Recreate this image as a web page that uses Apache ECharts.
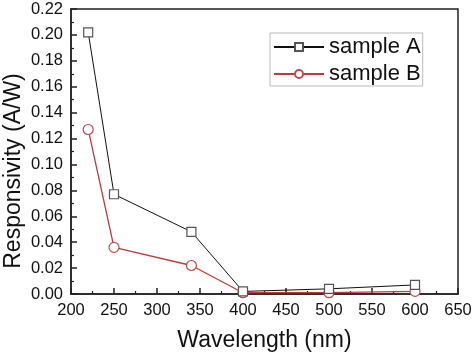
<!DOCTYPE html>
<html>
<head>
<meta charset="utf-8">
<script src="https://cdn.jsdelivr.net/npm/echarts@6/dist/echarts.min.js"></script>
<style>
  html, body { margin: 0; padding: 0; background: #fff; }
  #chart { width: 474px; height: 353px; }
</style>
</head>
<body>
<div id="chart"></div>
<script>
const wavelengths = [220, 250, 340, 400, 500, 600];
const sampleA = [0.202, 0.077, 0.048, 0.002, 0.004, 0.007];
const sampleB = [0.127, 0.036, 0.022, 0.001, 0.001, 0.002];
const yTitle = "Responsivity (A/W)";

const font = "Liberation Sans, Arial, sans-serif";

function pairs(values) {
  return wavelengths.map((w, i) => [w, values[i]]);
}

const chart = echarts.init(document.getElementById("chart"));
chart.setOption({
  animation: false,
  backgroundColor: "#fff",
  textStyle: { fontFamily: font },
  grid: {
    left: 71, right: 16, top: 9, bottom: 59,
    outerBoundsMode: "none",
    containLabel: false,
    show: true, borderColor: "#222", borderWidth: 1.5,
  },
  // y title sits a bit below the axis middle in the original, so place it by hand
  graphic: [
    {
      type: "text",
      x: 14, y: 171,
      rotation: Math.PI / 2,
      style: {
        text: yTitle,
        font: `23px ${font}`,
        fill: "#111",
        align: "center",
        verticalAlign: "middle",
      },
    },
  ],
  legend: {
    left: 270, top: 33,
    orient: "vertical",
    itemWidth: 50, itemHeight: 10, itemGap: 5,
    padding: [3, 2, 1, 3],
    borderColor: "#bbb", borderWidth: 1,
    textStyle: { fontFamily: font, fontSize: 22, color: "#111" },
    data: ["sample A", "sample B"],
  },
  xAxis: {
    type: "value",
    min: 200, max: 650, interval: 50,
    name: "Wavelength (nm)",
    nameLocation: "middle", nameGap: 35,
    nameTextStyle: { fontFamily: font, fontSize: 23, color: "#111" },
    axisLine: { lineStyle: { color: "#222", width: 1.5 } },
    axisTick: { inside: true, length: 6, lineStyle: { color: "#222", width: 1.5 } },
    minorTick: { show: true, splitNumber: 2, length: 3, lineStyle: { color: "#222", width: 1.2 } },
    axisLabel: { fontFamily: font, fontSize: 16.5, color: "#111", margin: 8 },
    splitLine: { show: false },
  },
  yAxis: {
    type: "value",
    min: 0, max: 0.22, interval: 0.02,
    axisLine: { show: true, lineStyle: { color: "#222", width: 1.5 } },
    axisTick: { inside: true, length: 6, lineStyle: { color: "#222", width: 1.5 } },
    minorTick: { show: true, splitNumber: 2, length: 3, lineStyle: { color: "#222", width: 1.2 } },
    axisLabel: {
      fontFamily: font, fontSize: 16.5, color: "#111", margin: 8,
      formatter: (v) => v.toFixed(2),
    },
    splitLine: { show: false },
  },
  series: [
    {
      name: "sample A",
      type: "line",
      data: pairs(sampleA),
      symbol: "rect", symbolSize: 9,
      lineStyle: { color: "#111", width: 1 },
      itemStyle: { color: "#fff", borderColor: "#555", borderWidth: 1.2 },
      z: 3,
    },
    {
      name: "sample B",
      type: "line",
      data: pairs(sampleB),
      symbol: "circle", symbolSize: 10,
      lineStyle: { color: "#c0393b", width: 1.3 },
      itemStyle: { color: "#fff", borderColor: "#c04a4a", borderWidth: 1.2 },
      z: 2,
    },
  ],
});
</script>
</body>
</html>
